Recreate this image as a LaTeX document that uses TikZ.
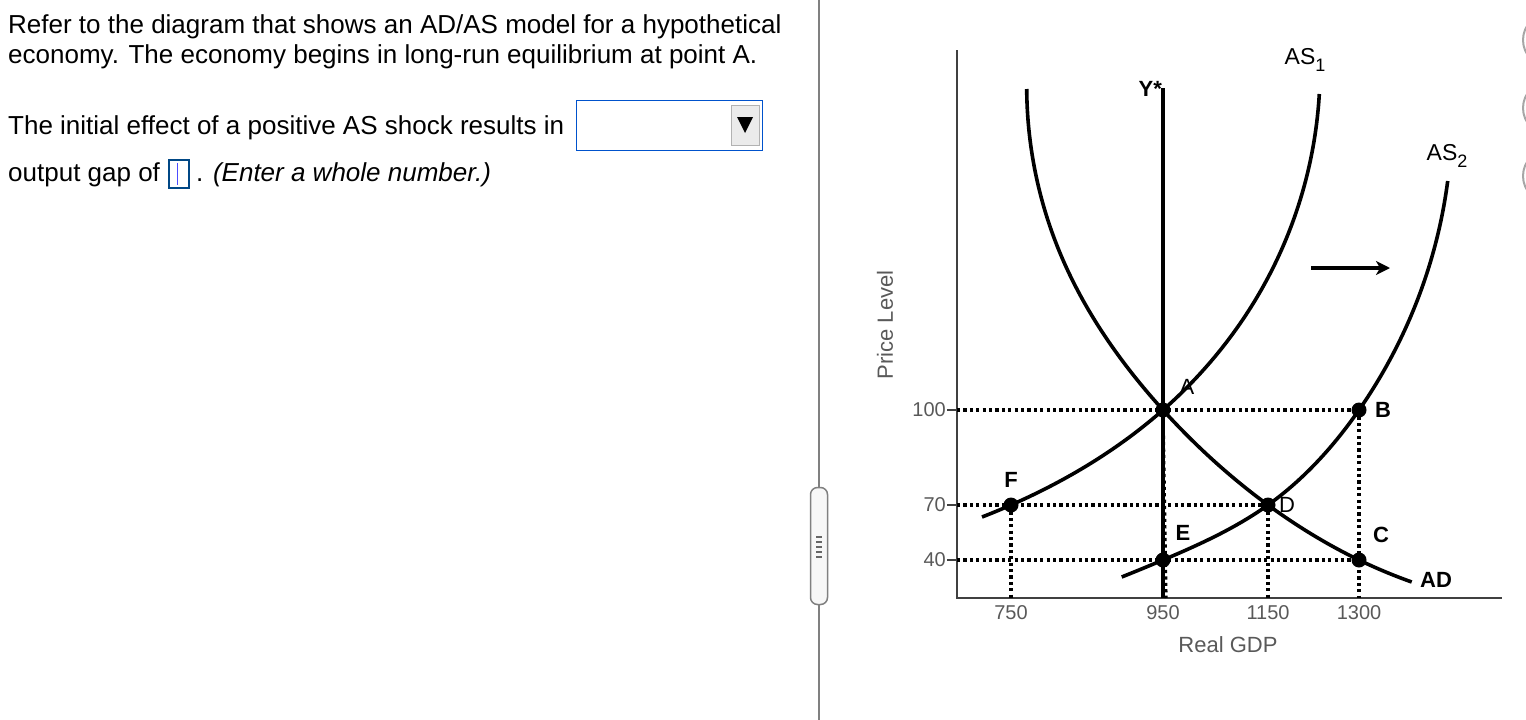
\documentclass[tikz,border=0pt]{standalone}
\usepackage{fontspec}
\setmainfont{Liberation Sans}
\usetikzlibrary{arrows.meta,hobby}
\newcommand{\mysub}[1]{\raisebox{-0.3em}{\fontsize{18}{18}\selectfont #1}}
\begin{document}
\begin{tikzpicture}[x=1pt,y=-1pt,
  txt/.style={anchor=base west,inner sep=0,font=\fontsize{26}{28}\selectfont},
  tick/.style={text=black!65,font=\fontsize{20}{22}\selectfont,inner sep=1pt},
  curve/.style={line width=3.6pt,use Hobby shortcut},
  dotl/.style={line width=3.2pt,dash pattern=on 3.2pt off 3.2pt},
  pt/.style={circle,fill=black,inner sep=0,minimum size=15pt},
  plab/.style={font=\fontsize{22}{24}\selectfont,inner sep=0},
  blab/.style={font=\bfseries\fontsize{22}{24}\selectfont,inner sep=0}]
\useasboundingbox (0,0) rectangle (1526,720);
% left text
\node[txt] (t1) at (8,33) {Refer to the diagram that shows an AD/AS model for a hypothetical};
\node[txt] (t2) at (8,63) {economy. The economy begins in long-run equilibrium at point A.};
\node[txt] (t3) at (8,134) {The initial effect of a positive AS shock results in};
\node[txt] (t4) at (8,181) {output gap of};
\node[txt] (t5) at (196,181) {. \textit{(Enter a whole number.)}};
\node[draw=blue!60!cyan!80!black,line width=1.5pt,minimum width=186pt,minimum height=50pt,inner sep=0] (dd) at (669.5,125.5) {};
\node[draw=black!30,fill=black!8,minimum width=28pt,minimum height=40pt,inner sep=0] (btn) at (745,125.5) {};
\fill (737,117) -- (753,117) -- (745,133) -- cycle;
\node[draw=teal!70!blue!80!black,line width=2.5pt,minimum width=20pt,minimum height=28pt,inner sep=0] (inp) at (179,174) {};
\draw[blue!70,line width=0.8pt] (177,163) -- (177,185);
% separator
\draw[black!50,line width=1.5pt] (819,0) -- (819,720);
\node[draw=black!50,fill=black!3,rounded corners=7pt,line width=1.5pt,minimum width=17pt,minimum height=117pt,inner sep=0] (handle) at (819,546) {};
\foreach \yy in {536,541,546,551,556} \fill[black!60] (816,\yy) rectangle (822,\yy+2);
% right edge circles
\foreach \yy in {40,108,176} \draw[black!35,line width=2pt] (1550,\yy) circle (27);
% axes
\draw[black!75,line width=1.5pt] (957,50) -- (957,598) -- (1502,598);
\foreach \yy/\lab in {410/100,505/70,560/40} {
  \draw[black!75,line width=1.5pt] (947,\yy) -- (957,\yy);
  \node[tick,anchor=east] at (947,\yy) {\lab};}
\foreach \xx/\lab in {1011/750,1163/950,1268/1150,1359/1300}
  \node[tick,anchor=north] at (\xx,604) {\lab};
\node[tick,rotate=90,font=\fontsize{22}{24}\selectfont] (pl) at (885,325) {Price Level};
\node[tick,font=\fontsize{22}{24}\selectfont] (rg) at (1228,645) {Real GDP};
% points
\coordinate (A) at (1163,410);
\coordinate (B) at (1359,410);
\coordinate (C) at (1359,560);
\coordinate (D) at (1268,505);
\coordinate (E) at (1163,560);
\coordinate (F) at (1011,505);
% dotted
\draw[dotl] (957,410) -- (B);
\draw[dotl] (957,505) -- (D);
\draw[dotl] (957,560) -- (C);
\draw[dotl] (F) -- (1011,598);
\draw[dotl] (A) -- (1166,598);
\draw[dotl] (D) -- (1268,598);
\draw[dotl] (B) -- (1359,598);
% curves
\draw[line width=3.6pt] (1163,88) -- (1163,598);
\node[blab,anchor=east] (ys) at (1162,89) {Y*};
\draw[curve] (1026.7,89) .. (1060,253) .. (A) .. (D) .. (C) .. (1411.7,582);
\draw[curve] (982,517) .. (F) .. (A) .. (1266.7,280) .. (1319.3,94);
\draw[curve] (1121.7,577) .. (E) .. (D) .. (B) .. (1433,253) .. (1447.7,181);
\draw[line width=3.4pt,-{Stealth[length=14pt,width=14pt,inset=4pt]}] (1311,268) -- (1390,268);
% point markers
\foreach \p in {A,B,C,D,E,F} \node[pt] at (\p) {};
% labels
\node[plab] (lA) at (1187,387) {A};
\node[plab] (lD) at (1287,505) {D};
\node[blab] (lB) at (1383,410) {B};
\node[blab] (lC) at (1381,535) {C};
\node[blab] (lE) at (1183,533) {E};
\node[blab] (lF) at (1011,480) {F};
\node[blab,anchor=west] (lAD) at (1420,580) {AD};
\node[plab,font=\fontsize{23}{24}\selectfont] (las1) at (1305,60) {AS\mysub{1}};
\node[plab,font=\fontsize{23}{24}\selectfont] (las2) at (1447,156) {AS\mysub{2}};
\end{tikzpicture}
\end{document}
